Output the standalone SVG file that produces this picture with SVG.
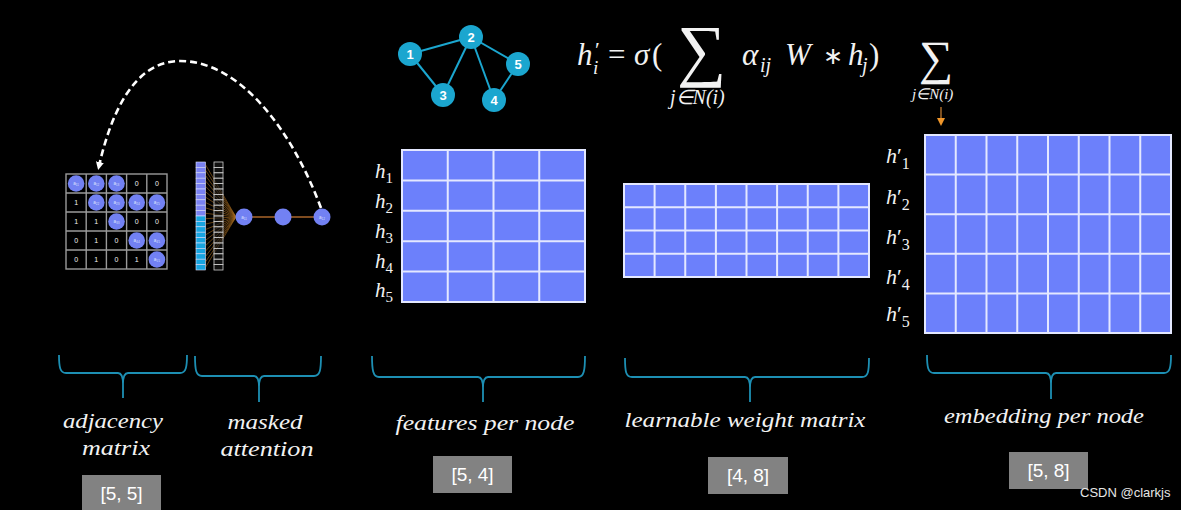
<svg xmlns="http://www.w3.org/2000/svg" width="1181" height="510" viewBox="0 0 1181 510">
<style>
.lbl{font-family:"Liberation Serif","Times New Roman",serif;font-style:italic;fill:#f2f2f2}
.m{font-family:"Liberation Serif","Times New Roman",serif;font-style:italic;fill:#f2f2f2}
.mu{font-family:"Liberation Serif","Times New Roman",serif;fill:#f2f2f2}
.dim{font-family:"Liberation Sans",Arial,sans-serif;font-size:19px;fill:#ffffff;text-anchor:middle}
.box{fill:#828282}
.brace{fill:none;stroke:#1d8fb3;stroke-width:1.8;stroke-linejoin:round}
.cell{fill:#6c80fb}
.grid{stroke:#e4e8ff;stroke-width:2;fill:none}
.adj{stroke:#9a9a9a;stroke-width:1.4;fill:none}
.ac{fill:#7281f3}
.at{font-family:"Liberation Sans",Arial,sans-serif;font-size:4.5px;fill:#dfe3ff;text-anchor:middle}
.dg{font-family:"Liberation Sans",Arial,sans-serif;font-size:7px;fill:#f0f0f0;text-anchor:middle}
.gn{fill:#1ba6cf}
.ge{stroke:#1ba6cf;stroke-width:2}
.gt{font-family:"Liberation Sans",Arial,sans-serif;font-weight:bold;font-size:13px;fill:#ffffff;text-anchor:middle}
.fan{stroke:#e0902a;stroke-width:0.6;opacity:0.75}
</style>
<defs>
<marker id="wh" markerWidth="8" markerHeight="8" refX="4" refY="4" orient="auto" markerUnits="userSpaceOnUse">
<path d="M0,0 L8,4 L0,8 Z" fill="#ffffff"/>
</marker>
<marker id="oh" markerWidth="8" markerHeight="8" refX="4" refY="4" orient="auto" markerUnits="userSpaceOnUse">
<path d="M0,0 L8,4 L0,8 Z" fill="#f0962a"/>
</marker>
</defs>
<rect width="1181" height="510" fill="#000000"/>

<!-- graph -->
<g id="graph">
<line class="ge" x1="410" y1="54" x2="471" y2="37"/>
<line class="ge" x1="410" y1="54" x2="443" y2="95"/>
<line class="ge" x1="471" y1="37" x2="443" y2="95"/>
<line class="ge" x1="471" y1="37" x2="494" y2="100"/>
<line class="ge" x1="471" y1="37" x2="518" y2="64"/>
<line class="ge" x1="518" y1="64" x2="494" y2="100"/>
<g id="gnode1"><circle class="gn" cx="410" cy="54" r="12"/><text class="gt" x="410" y="59">1</text></g>
<g id="gnode2"><circle class="gn" cx="471" cy="37" r="12"/><text class="gt" x="471" y="42">2</text></g>
<g id="gnode3"><circle class="gn" cx="443" cy="95" r="12"/><text class="gt" x="443" y="100">3</text></g>
<g id="gnode4"><circle class="gn" cx="494" cy="100" r="12"/><text class="gt" x="494" y="105">4</text></g>
<g id="gnode5"><circle class="gn" cx="518" cy="64" r="12"/><text class="gt" x="518" y="69">5</text></g>
</g>

<!-- formula -->
<g id="formula">
<text class="m" x="577" y="65" font-size="31">h</text>
<text class="mu" x="595" y="57" font-size="22">′</text>
<text class="m" x="593" y="74" font-size="19">i</text>
<text class="mu" x="608" y="65" font-size="31">=</text>
<text class="m" x="634" y="65" font-size="31">σ</text>
<text class="mu" x="652" y="65" font-size="31">(</text>
<text class="mu" x="677" y="73" font-size="69">∑</text>
<text class="m" x="670" y="104" font-size="20">j∈N(i)</text>
<text class="m" x="742" y="65" font-size="31">α</text>
<text class="m" x="760" y="72" font-size="20">ij</text>
<text class="m" x="785" y="65" font-size="31">W</text>
<text class="mu" x="823" y="64" font-size="24">∗</text>
<text class="m" x="848" y="65" font-size="31">h</text>
<text class="m" x="862" y="72" font-size="20">j</text>
<text class="mu" x="869" y="65" font-size="31">)</text>
<text class="mu" x="919" y="74" font-size="48">∑</text>
<text class="m" x="912" y="99" font-size="15">j∈N(i)</text>
</g>

<!-- adjacency matrix -->
<g id="adjacency">
<rect class="adj" x="66" y="174" width="101" height="95"/>
<path class="adj" d="M86.2,174V269M106.4,174V269M126.6,174V269M146.8,174V269M66,193H167M66,212H167M66,231H167M66,250H167"/>
<circle class="ac" cx="76.1" cy="183.5" r="8.3"/><text class="at" x="76.1" y="185">a₁₁</text>
<circle class="ac" cx="96.3" cy="183.5" r="8.3"/><text class="at" x="96.3" y="185">a₁₂</text>
<circle class="ac" cx="116.5" cy="183.5" r="8.3"/><text class="at" x="116.5" y="185">a₁₃</text>
<text class="dg" x="136.7" y="186">0</text><text class="dg" x="156.9" y="186">0</text>
<text class="dg" x="76.1" y="205">1</text>
<circle class="ac" cx="96.3" cy="202.5" r="8.3"/><text class="at" x="96.3" y="204">a₂₂</text>
<circle class="ac" cx="116.5" cy="202.5" r="8.3"/><text class="at" x="116.5" y="204">a₂₃</text>
<circle class="ac" cx="136.7" cy="202.5" r="8.3"/><text class="at" x="136.7" y="204">a₂₄</text>
<circle class="ac" cx="156.9" cy="202.5" r="8.3"/><text class="at" x="156.9" y="204">a₂₅</text>
<text class="dg" x="76.1" y="224">1</text><text class="dg" x="96.3" y="224">1</text>
<circle class="ac" cx="116.5" cy="221.5" r="8.3"/><text class="at" x="116.5" y="223">a₃₃</text>
<text class="dg" x="136.7" y="224">0</text><text class="dg" x="156.9" y="224">0</text>
<text class="dg" x="76.1" y="243">0</text><text class="dg" x="96.3" y="243">1</text><text class="dg" x="116.5" y="243">0</text>
<circle class="ac" cx="136.7" cy="240.5" r="8.3"/><text class="at" x="136.7" y="242">a₄₄</text>
<circle class="ac" cx="156.9" cy="240.5" r="8.3"/><text class="at" x="156.9" y="242">a₄₅</text>
<text class="dg" x="76.1" y="262">0</text><text class="dg" x="96.3" y="262">1</text><text class="dg" x="116.5" y="262">0</text><text class="dg" x="136.7" y="262">1</text>
<circle class="ac" cx="156.9" cy="259.5" r="8.3"/><text class="at" x="156.9" y="261">a₅₅</text>
</g>

<!-- masked attention -->
<g id="attention">
<g stroke="#dfe3ff" stroke-width="0.6">
<rect x="196" y="162" width="9.5" height="5.4" fill="#7a82f2"/><rect x="196" y="167.4" width="9.5" height="5.4" fill="#7a82f2"/><rect x="196" y="172.8" width="9.5" height="5.4" fill="#7a82f2"/><rect x="196" y="178.2" width="9.5" height="5.4" fill="#7a82f2"/><rect x="196" y="183.6" width="9.5" height="5.4" fill="#7a82f2"/><rect x="196" y="189" width="9.5" height="5.4" fill="#7a82f2"/><rect x="196" y="194.4" width="9.5" height="5.4" fill="#7a82f2"/><rect x="196" y="199.8" width="9.5" height="5.4" fill="#7a82f2"/><rect x="196" y="205.2" width="9.5" height="5.4" fill="#7a82f2"/><rect x="196" y="210.6" width="9.5" height="5.4" fill="#7a82f2"/>
<rect x="196" y="216" width="9.5" height="5.4" fill="#17a4e0"/><rect x="196" y="221.4" width="9.5" height="5.4" fill="#17a4e0"/><rect x="196" y="226.8" width="9.5" height="5.4" fill="#17a4e0"/><rect x="196" y="232.2" width="9.5" height="5.4" fill="#17a4e0"/><rect x="196" y="237.6" width="9.5" height="5.4" fill="#17a4e0"/><rect x="196" y="243" width="9.5" height="5.4" fill="#17a4e0"/><rect x="196" y="248.4" width="9.5" height="5.4" fill="#17a4e0"/><rect x="196" y="253.8" width="9.5" height="5.4" fill="#17a4e0"/><rect x="196" y="259.2" width="9.5" height="5.4" fill="#17a4e0"/><rect x="196" y="264.6" width="9.5" height="5.4" fill="#17a4e0"/>
</g>
<g class="fan">
<line x1="205.5" y1="164.7" x2="236" y2="217"/><line x1="205.5" y1="170.1" x2="236" y2="217"/><line x1="205.5" y1="175.5" x2="236" y2="217"/><line x1="205.5" y1="180.9" x2="236" y2="217"/><line x1="205.5" y1="186.3" x2="236" y2="217"/><line x1="205.5" y1="191.7" x2="236" y2="217"/><line x1="205.5" y1="197.1" x2="236" y2="217"/><line x1="205.5" y1="202.5" x2="236" y2="217"/><line x1="205.5" y1="207.9" x2="236" y2="217"/><line x1="205.5" y1="213.3" x2="236" y2="217"/><line x1="205.5" y1="218.7" x2="236" y2="217"/><line x1="205.5" y1="224.1" x2="236" y2="217"/><line x1="205.5" y1="229.5" x2="236" y2="217"/><line x1="205.5" y1="234.9" x2="236" y2="217"/><line x1="205.5" y1="240.3" x2="236" y2="217"/><line x1="205.5" y1="245.7" x2="236" y2="217"/><line x1="205.5" y1="251.1" x2="236" y2="217"/><line x1="205.5" y1="256.5" x2="236" y2="217"/><line x1="205.5" y1="261.9" x2="236" y2="217"/><line x1="205.5" y1="267.3" x2="236" y2="217"/>
</g>
<g stroke="#cfcfcf" stroke-width="0.8" fill="#1e1e1e" fill-opacity="0.55">
<rect x="214" y="162" width="9" height="5.4"/><rect x="214" y="167.4" width="9" height="5.4"/><rect x="214" y="172.8" width="9" height="5.4"/><rect x="214" y="178.2" width="9" height="5.4"/><rect x="214" y="183.6" width="9" height="5.4"/><rect x="214" y="189" width="9" height="5.4"/><rect x="214" y="194.4" width="9" height="5.4"/><rect x="214" y="199.8" width="9" height="5.4"/><rect x="214" y="205.2" width="9" height="5.4"/><rect x="214" y="210.6" width="9" height="5.4"/><rect x="214" y="216" width="9" height="5.4"/><rect x="214" y="221.4" width="9" height="5.4"/><rect x="214" y="226.8" width="9" height="5.4"/><rect x="214" y="232.2" width="9" height="5.4"/><rect x="214" y="237.6" width="9" height="5.4"/><rect x="214" y="243" width="9" height="5.4"/><rect x="214" y="248.4" width="9" height="5.4"/><rect x="214" y="253.8" width="9" height="5.4"/><rect x="214" y="259.2" width="9" height="5.4"/><rect x="214" y="264.6" width="9" height="5.4"/>
</g>
<line x1="236" y1="217" x2="322" y2="217" stroke="#a8642a" stroke-width="1.5"/>
<g id="anode1"><circle class="ac" cx="244" cy="217" r="8.5"/><text class="at" x="244" y="218.5">a₁₁</text></g>
<g id="anode2"><circle class="ac" cx="283" cy="217" r="8.5"/></g>
<g id="anode3"><circle class="ac" cx="322" cy="217" r="8.5"/><text class="at" x="322" y="218.5">a₁₂</text></g>
</g>

<!-- connectors -->
<g id="connectors">
<path d="M321,208 C292,130 240,61 180,61 C132,61 110,118 99,166" fill="none" stroke="#ffffff" stroke-width="2.6" stroke-dasharray="7,4" marker-end="url(#wh)"/>
<line x1="941" y1="107" x2="941" y2="122" stroke="#c07a30" stroke-width="1.3" marker-end="url(#oh)"/>
</g>

<!-- features matrix -->
<g id="features">
<rect class="cell" x="402" y="150" width="183" height="152"/>
<path class="grid" d="M402,150H585V302H402Z M447.75,150V302M493.5,150V302M539.25,150V302M402,180.4H585M402,210.8H585M402,241.2H585M402,271.6H585"/>
<text class="m" x="375" y="178" font-size="21">h<tspan font-style="normal" font-size="15" dy="5">1</tspan></text>
<text class="m" x="375" y="208" font-size="21">h<tspan font-style="normal" font-size="15" dy="5">2</tspan></text>
<text class="m" x="375" y="238" font-size="21">h<tspan font-style="normal" font-size="15" dy="5">3</tspan></text>
<text class="m" x="375" y="268" font-size="21">h<tspan font-style="normal" font-size="15" dy="5">4</tspan></text>
<text class="m" x="375" y="297" font-size="21">h<tspan font-style="normal" font-size="15" dy="5">5</tspan></text>
</g>

<!-- weight matrix -->
<g id="weights">
<rect class="cell" x="624" y="184" width="245" height="93"/>
<path class="grid" d="M624,184H869V277H624Z M654.6,184V277M685.25,184V277M715.9,184V277M746.5,184V277M777.1,184V277M807.75,184V277M838.4,184V277M624,207.25H869M624,230.5H869M624,253.75H869"/>
</g>

<!-- embedding matrix -->
<g id="embedding">
<rect class="cell" x="925" y="135" width="246" height="198"/>
<path class="grid" d="M925,135H1171V333H925Z M955.75,135V333M986.5,135V333M1017.25,135V333M1048,135V333M1078.75,135V333M1109.5,135V333M1140.25,135V333M925,174.6H1171M925,214.2H1171M925,253.8H1171M925,293.4H1171"/>
<text class="m" x="886" y="163" font-size="22">h<tspan font-style="normal">′</tspan><tspan font-style="normal" font-size="16" dy="6">1</tspan></text>
<text class="m" x="886" y="204" font-size="22">h<tspan font-style="normal">′</tspan><tspan font-style="normal" font-size="16" dy="6">2</tspan></text>
<text class="m" x="886" y="244" font-size="22">h<tspan font-style="normal">′</tspan><tspan font-style="normal" font-size="16" dy="6">3</tspan></text>
<text class="m" x="886" y="284" font-size="22">h<tspan font-style="normal">′</tspan><tspan font-style="normal" font-size="16" dy="6">4</tspan></text>
<text class="m" x="886" y="321" font-size="22">h<tspan font-style="normal">′</tspan><tspan font-style="normal" font-size="16" dy="6">5</tspan></text>
</g>

<!-- braces and labels -->
<g id="label-adjacency">
<path class="brace" d="M59,355 C59,367 60,373 66,373 H118 C122,373 123,378 123,384 V398 M123,384 C123,378 124,373 128,373 H180 C186,373 187,367 187,355"/>
<text class="lbl" x="113" y="428" font-size="20" text-anchor="middle" textLength="100" lengthAdjust="spacingAndGlyphs">adjacency</text>
<text class="lbl" x="116" y="455" font-size="20" text-anchor="middle" textLength="68" lengthAdjust="spacingAndGlyphs">matrix</text>
<rect class="box" x="82" y="475" width="79" height="40"/>
<text class="dim" x="121.5" y="500">[5, 5]</text>
</g>
<g id="label-masked">
<path class="brace" d="M195,356 C195,370 196,376 202,376 H254 C258,376 259,381 259,387 V402 M259,387 C259,381 260,376 264,376 H314 C320,376 321,370 321,356"/>
<text class="lbl" x="265" y="429" font-size="20" text-anchor="middle" textLength="75" lengthAdjust="spacingAndGlyphs">masked</text>
<text class="lbl" x="267" y="456" font-size="20" text-anchor="middle" textLength="93" lengthAdjust="spacingAndGlyphs">attention</text>
</g>
<g id="label-features">
<path class="brace" d="M372,356 C372,370 373,377 379,377 H478 C482,377 483,382 483,388 V402 M483,388 C483,382 484,377 488,377 H578 C584,377 585,370 585,356"/>
<text class="lbl" x="485" y="430" font-size="20" text-anchor="middle" textLength="179" lengthAdjust="spacingAndGlyphs">features per node</text>
<rect class="box" x="433" y="456" width="79" height="37"/>
<text class="dim" x="472.5" y="481">[5, 4]</text>
</g>
<g id="label-weights">
<path class="brace" d="M625,358 C625,372 626,377 632,377 H745 C749,377 750,382 750,388 V402 M750,388 C750,382 751,377 755,377 H862 C868,377 869,372 869,358"/>
<text class="lbl" x="745" y="427" font-size="20" text-anchor="middle" textLength="241" lengthAdjust="spacingAndGlyphs">learnable weight matrix</text>
<rect class="box" x="708" y="457" width="80" height="37"/>
<text class="dim" x="748" y="482">[4, 8]</text>
</g>
<g id="label-embedding">
<path class="brace" d="M927,355 C927,367 928,373 934,373 H1046 C1050,373 1051,378 1051,384 V399 M1051,384 C1051,378 1052,373 1056,373 H1164 C1170,373 1171,367 1171,355"/>
<text class="lbl" x="1044" y="423" font-size="20" text-anchor="middle" textLength="200" lengthAdjust="spacingAndGlyphs">embedding per node</text>
<rect class="box" x="1009" y="452" width="79" height="37"/>
<text class="dim" x="1048.5" y="477">[5, 8]</text>
</g>
<text x="1080" y="497" font-family="Liberation Sans,Arial,sans-serif" font-size="13" fill="#e6e6e6">CSDN @clarkjs</text>
</svg>
